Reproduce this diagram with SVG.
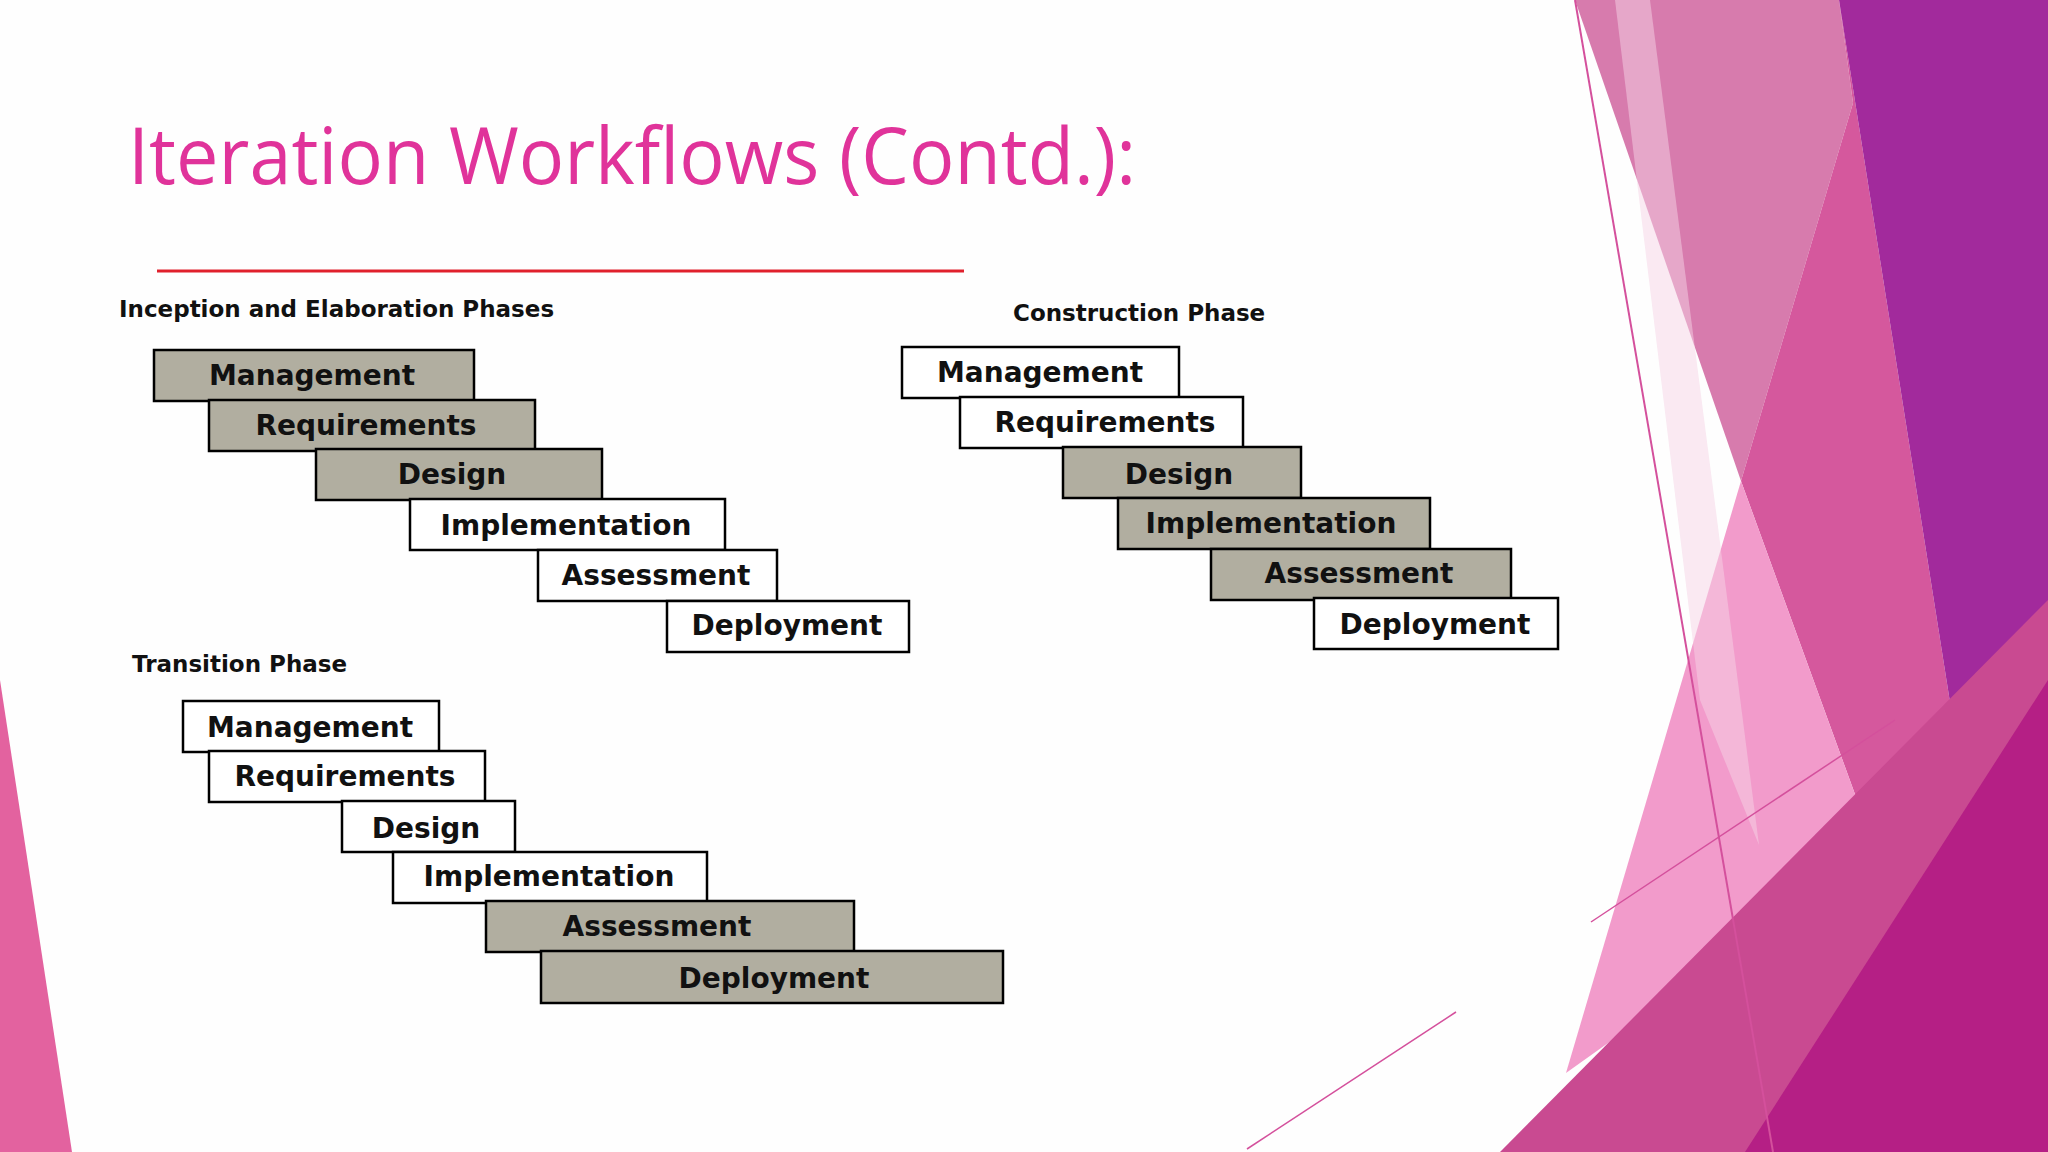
<svg xmlns="http://www.w3.org/2000/svg" width="2048" height="1152" viewBox="0 0 2048 1152">
<style>
.b{stroke:#000;stroke-width:2.5}
.g{fill:#b1aea0}
.w{fill:#fff}
.t{font-family:"DejaVu Sans",Verdana,sans-serif;font-weight:bold;font-size:28px;fill:#111;text-anchor:middle}
.h{font-family:"DejaVu Sans",Verdana,sans-serif;font-weight:bold;font-size:23px;fill:#111}
</style>
<rect width="2048" height="1152" fill="#fefefe"/>
<g id="background">
<polygon points="1575,0 1839,0 1853,103 1741,481" fill="#d77bad"/>
<polygon points="1853,103 1839,0 1958,753 1876,852 1741,481" fill="#d5589d"/>
<polygon points="1741,481 1876,852 1566,1073" fill="#f29bcb"/>
<polygon points="1615,0 1650,0 1759,845 1700,700" fill="#f6d3e6" opacity="0.5"/>
<polygon points="1839,0 2048,0 2048,650 1958,753" fill="#a22a9c"/>
<polygon points="1500,1152 2048,600 2048,1152" fill="#c94a91"/>
<polygon points="1745,1152 2048,680 2048,1152" fill="#b51f85"/>
<polygon points="0,680 72,1152 0,1152" fill="#e3629f"/>
<line x1="1575" y1="0" x2="1773" y2="1152" stroke="#d4509c" stroke-width="2"/>
<line x1="1591" y1="922" x2="1895" y2="720" stroke="#d4509c" stroke-width="1.5"/>
<line x1="1247" y1="1149" x2="1456" y2="1012" stroke="#d4509c" stroke-width="1.5"/>
</g>
<text x="128" y="184" font-family="'Open Sans','DejaVu Sans',sans-serif" font-size="78" fill="#e0339a" textLength="1008" lengthAdjust="spacingAndGlyphs">Iteration Workflows (Contd.):</text>
<line x1="157" y1="271" x2="964" y2="271" stroke="#e0202c" stroke-width="3"/>
<text class="h" x="119" y="317">Inception and Elaboration Phases</text>
<text class="h" x="1013" y="321">Construction Phase</text>
<text class="h" x="132" y="672">Transition Phase</text>
<g id="inception">
<g id="i1"><rect class="b g" x="154" y="350" width="320" height="51"/><text class="t" x="312" y="385">Management</text></g>
<g id="i2"><rect class="b g" x="209" y="400" width="326" height="51"/><text class="t" x="366" y="435">Requirements</text></g>
<g id="i3"><rect class="b g" x="316" y="449" width="286" height="51"/><text class="t" x="452" y="484">Design</text></g>
<g id="i4"><rect class="b w" x="410" y="499" width="315" height="51"/><text class="t" x="566" y="535">Implementation</text></g>
<g id="i5"><rect class="b w" x="538" y="550" width="239" height="51"/><text class="t" x="656" y="585">Assessment</text></g>
<g id="i6"><rect class="b w" x="667" y="601" width="242" height="51"/><text class="t" x="787" y="635">Deployment</text></g>
</g>
<g id="construction">
<g id="c1"><rect class="b w" x="902" y="347" width="277" height="51"/><text class="t" x="1040" y="382">Management</text></g>
<g id="c2"><rect class="b w" x="960" y="397" width="283" height="51"/><text class="t" x="1105" y="432">Requirements</text></g>
<g id="c3"><rect class="b g" x="1063" y="447" width="238" height="51"/><text class="t" x="1179" y="484">Design</text></g>
<g id="c4"><rect class="b g" x="1118" y="498" width="312" height="51"/><text class="t" x="1271" y="533">Implementation</text></g>
<g id="c5"><rect class="b g" x="1211" y="549" width="300" height="51"/><text class="t" x="1359" y="583">Assessment</text></g>
<g id="c6"><rect class="b w" x="1314" y="598" width="244" height="51"/><text class="t" x="1435" y="634">Deployment</text></g>
</g>
<g id="transition">
<g id="t1"><rect class="b w" x="183" y="701" width="256" height="51"/><text class="t" x="310" y="737">Management</text></g>
<g id="t2"><rect class="b w" x="209" y="751" width="276" height="51"/><text class="t" x="345" y="786">Requirements</text></g>
<g id="t3"><rect class="b w" x="342" y="801" width="173" height="51"/><text class="t" x="426" y="838">Design</text></g>
<g id="t4"><rect class="b w" x="393" y="852" width="314" height="51"/><text class="t" x="549" y="886">Implementation</text></g>
<g id="t5"><rect class="b g" x="486" y="901" width="368" height="51"/><text class="t" x="657" y="936">Assessment</text></g>
<g id="t6"><rect class="b g" x="541" y="951" width="462" height="52"/><text class="t" x="774" y="988">Deployment</text></g>
</g>
<g id="connectors"/>
</svg>
